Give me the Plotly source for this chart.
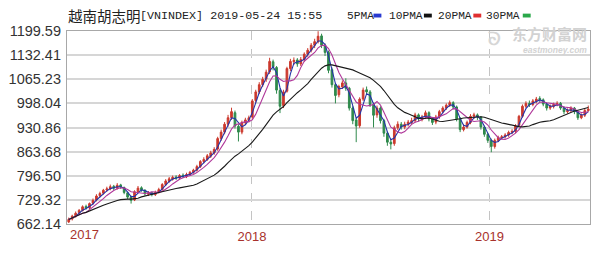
import plotly.graph_objects as go
import pandas as pd

# ---------------- data ----------------
opens = [668, 676, 685, 694, 700, 711, 707, 720, 729, 741,
         748, 757, 760, 767, 762, 771, 764, 749, 738, 729,
         752, 763, 756, 745, 749, 744, 750, 758, 772, 781,
         787, 793, 790, 798, 794, 800, 806, 812, 822, 836,
         842, 851, 860, 871, 900, 918, 940, 958, 972, 934,
         918, 944, 951, 960, 1006, 1030, 1050, 1066, 1086, 1114,
         1098, 1034, 992, 1032, 1095, 1114, 1119, 1108, 1120, 1135,
         1146, 1160, 1170, 1186, 1160, 1140, 1092, 1050, 1022, 1044,
         1055, 1040, 985, 952, 936, 1010, 1036, 1030, 995, 966,
         985, 950, 915, 890, 886, 930, 940, 932, 940, 945,
         950, 966, 954, 960, 972, 955, 946, 960, 975, 985,
         993, 1000, 988, 955, 925, 932, 945, 962, 966, 960,
         932, 912, 895, 878, 895, 902, 905, 910, 917, 920,
         936, 962, 990, 998, 995, 1004, 1012, 1008, 996, 985,
         990, 994, 998, 985, 975, 978, 985, 975, 958, 965,
         978]
highs = [680, 688, 697, 704, 714, 716, 722, 733, 745, 752,
         760, 766, 772, 771, 776, 774, 766, 752, 741, 756,
         768, 767, 759, 754, 752, 755, 763, 776, 787, 793,
         797, 798, 801, 803, 805, 810, 816, 827, 840, 848,
         857, 866, 876, 905, 925, 946, 966, 986, 978, 940,
         950, 958, 964, 1010, 1036, 1057, 1072, 1092, 1125, 1120,
         1102, 1040, 1036, 1100, 1122, 1126, 1124, 1127, 1140, 1152,
         1166, 1178, 1199, 1192, 1165, 1145, 1098, 1055, 1050, 1062,
         1068, 1044, 990, 958, 1015, 1042, 1045, 1035, 1000, 992,
         990, 955, 920, 900, 936, 948, 946, 947, 952, 958,
         972, 970, 966, 978, 976, 960, 966, 980, 990, 998,
         1006, 1004, 992, 960, 940, 950, 968, 972, 970, 962,
         936, 916, 900, 900, 908, 910, 915, 922, 926, 940,
         966, 995, 1004, 1006, 1010, 1016, 1018, 1012, 1000, 995,
         1000, 1004, 1002, 990, 984, 990, 988, 978, 970, 984,
         992]
lows = [665, 672, 680, 690, 697, 702, 704, 716, 725, 736,
        744, 752, 756, 757, 758, 760, 745, 732, 719, 726,
        748, 752, 741, 740, 739, 740, 747, 755, 768, 777,
        783, 785, 786, 790, 790, 796, 802, 808, 818, 831,
        838, 846, 855, 866, 894, 912, 933, 952, 928, 892,
        912, 938, 945, 955, 1000, 1024, 1044, 1058, 1080, 1090,
        1025, 971, 985, 1028, 1088, 1105, 1100, 1102, 1114, 1128,
        1140, 1152, 1165, 1152, 1130, 1082, 1042, 998, 1015, 1038,
        1033, 978, 940, 890, 930, 1005, 1022, 988, 931, 958,
        942, 905, 880, 870, 880, 924, 925, 926, 934, 940,
        945, 948, 948, 955, 948, 938, 940, 955, 970, 980,
        988, 982, 948, 918, 920, 928, 940, 955, 952, 925,
        905, 888, 862, 872, 890, 898, 900, 905, 912, 915,
        932, 958, 985, 988, 990, 998, 1002, 990, 978, 980,
        984, 990, 980, 968, 970, 974, 968, 952, 954, 960,
        975]
closes = [675, 684, 692, 700, 710, 706, 719, 728, 740, 747,
          756, 760, 766, 762, 770, 765, 750, 737, 728, 752,
          762, 757, 746, 748, 744, 750, 758, 772, 782, 788,
          792, 790, 797, 795, 800, 806, 812, 822, 836, 842,
          852, 860, 870, 900, 918, 940, 958, 975, 935, 918,
          945, 952, 958, 1005, 1030, 1050, 1065, 1085, 1115, 1100,
          1035, 990, 1030, 1095, 1115, 1118, 1108, 1120, 1135, 1146,
          1160, 1170, 1185, 1160, 1140, 1090, 1050, 1020, 1045, 1055,
          1040, 985, 950, 935, 1010, 1035, 1030, 995, 965, 985,
          950, 915, 890, 885, 930, 940, 932, 940, 946, 950,
          966, 955, 960, 972, 955, 945, 960, 975, 985, 993,
          1000, 988, 955, 925, 932, 945, 962, 966, 960, 932,
          912, 895, 878, 895, 903, 905, 910, 917, 920, 935,
          962, 990, 998, 995, 1005, 1010, 1008, 996, 985, 990,
          995, 998, 985, 975, 978, 985, 975, 958, 965, 978,
          982]

y_ticks = [662.14, 729.32, 796.50, 863.68, 930.86, 998.04, 1065.23, 1132.41, 1199.59]
y_tick_labels = ["662.14", "729.32", "796.50", "863.68", "930.86",
                 "998.04", "1065.23", "1132.41", "1199.59"]
year_labels = ["2017", "2018", "2019"]
year_index = [-0.5, 52.9, 121.5]

ma_names = ["5PMA", "10PMA", "20PMA", "30PMA"]
ma_windows = [3, 6, 21]

title_cn = "越南胡志明"
title_code = "[VNINDEX] 2019-05-24 15:55"

# ---------------- figure ----------------
N = len(closes)
x = list(range(N))
s = pd.Series(closes, dtype=float)

fig = go.Figure()
fig.add_trace(go.Candlestick(
    x=x, open=opens, high=highs, low=lows, close=closes,
    increasing=dict(line=dict(color="#cc3a2e", width=1), fillcolor="#cc3a2e"),
    decreasing=dict(line=dict(color="#2f8a4c", width=1), fillcolor="#2f8a4c"),
    whiskerwidth=0, showlegend=False, hoverinfo="skip"))

ma_colors = ["#2433a8", "#b0389a", "#1a1a1a"]
for w, c in zip(ma_windows, ma_colors):
    fig.add_trace(go.Scatter(x=x, y=s.rolling(w, min_periods=1).mean(),
                             mode="lines", line=dict(color=c, width=1.1),
                             showlegend=False, hoverinfo="skip"))

L, R, T, B = 62, 9, 31, 22
W, H = 600, 253
pw, ph = W - L - R, H - T - B


def px2x(p):
    return (p - L) / pw


def py2y(p):
    return (H - B - p) / ph


annotations = []
annotations.append(dict(x=px2x(61), y=py2y(15), xref="paper", yref="paper",
                        text=title_cn, showarrow=False, xanchor="left", yanchor="middle",
                        font=dict(family="Noto Sans CJK SC", size=14.5, color="#222")))
annotations.append(dict(x=px2x(134), y=py2y(15), xref="paper", yref="paper",
                        text=title_code, showarrow=False, xanchor="left", yanchor="middle",
                        font=dict(family="Liberation Mono", size=11.7, color="#222")))
leg_x = [343, 386, 435, 484]
bar_x = [372, 423, 473, 523]
bar_colors = ["#2a3ad0", "#111111", "#e03030", "#2aa84a"]
shapes = []
for name, lx, bx, bc in zip(ma_names, leg_x, bar_x, bar_colors):
    annotations.append(dict(x=px2x(lx), y=py2y(15), xref="paper", yref="paper",
                            text=name, showarrow=False, xanchor="left", yanchor="middle",
                            font=dict(family="Liberation Mono", size=11.2, color="#222")))
    shapes.append(dict(type="rect", xref="paper", yref="paper",
                       x0=px2x(bx), x1=px2x(bx + 8), y0=py2y(17), y1=py2y(13),
                       fillcolor=bc, line=dict(width=0)))

# 2017 label (first data point)
annotations.append(dict(x=px2x(63), y=py2y(242), xref="paper", yref="paper",
                        text=year_labels[0], showarrow=False, xanchor="left", yanchor="middle",
                        font=dict(family="Liberation Sans", size=13, color="#a8322c")))
# watermark
annotations.append(dict(x=px2x(590), y=py2y(34), xref="paper", yref="paper",
                        text="<b>东方财富网</b>", showarrow=False, xanchor="right", yanchor="middle",
                        font=dict(family="Noto Sans CJK SC", size=15, color="#d2d2d2")))
annotations.append(dict(x=px2x(590), y=py2y(51), xref="paper", yref="paper",
                        text="<b><i>eastmoney.com</i></b>", showarrow=False, xanchor="right",
                        yanchor="middle",
                        font=dict(family="Liberation Sans", size=8.5, color="#d2d2d2")))
annotations.append(dict(x=px2x(494), y=py2y(38), xref="paper", yref="paper",
                        text="<b>ᘐ</b>", showarrow=False, xanchor="center", yanchor="middle",
                        font=dict(family="Noto Sans", size=18, color="#d6d6d6")))

fig.update_layout(
    width=W, height=H,
    margin=dict(l=L, r=R, t=T, b=B),
    paper_bgcolor="white", plot_bgcolor="white",
    showlegend=False,
    annotations=annotations, shapes=shapes,
    xaxis=dict(range=[-0.5, N - 0.5], tickvals=year_index[1:], ticktext=year_labels[1:],
               showgrid=True, gridcolor="#c4c4c4", griddash="dash", gridwidth=1,
               showline=True, linecolor="#a8a8a8", linewidth=1.2, mirror=True,
               ticks="", zeroline=False, rangeslider=dict(visible=False),
               tickfont=dict(family="Liberation Sans", size=13, color="#a8322c"),
               fixedrange=True),
    yaxis=dict(range=[662.14, 1199.59], tickvals=y_ticks, ticktext=y_tick_labels,
               showgrid=True, gridcolor="#d6d6d6", gridwidth=1.5,
               showline=True, linecolor="#a8a8a8", linewidth=1.2, mirror=True,
               ticks="", zeroline=False, ticklabelstandoff=2,
               tickfont=dict(family="Liberation Sans", size=14.5, color="#333"),
               fixedrange=True),
)

fig.write_html("out.html")
